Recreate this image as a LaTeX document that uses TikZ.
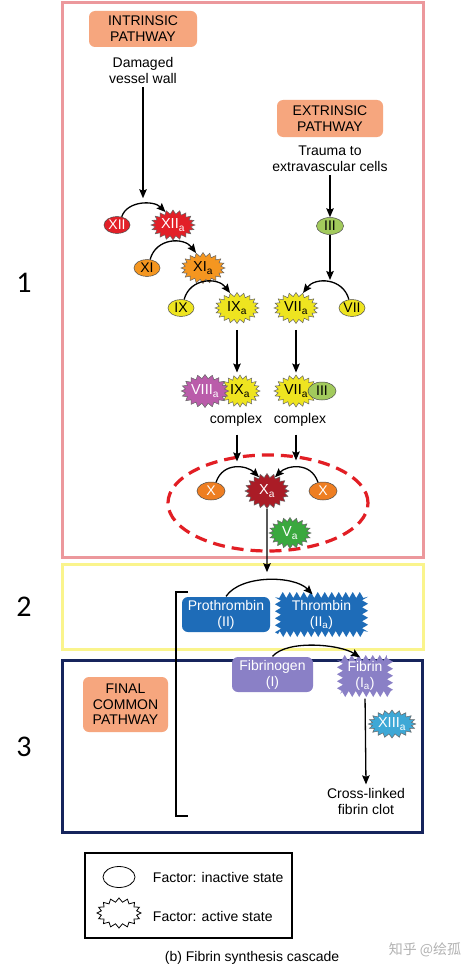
\documentclass[tikz,border=0pt]{standalone}
\usepackage{fontspec}
\setmainfont{Liberation Sans}
\newfontfamily\numfont{Carlito}
\newfontfamily\cjkfont{Noto Sans CJK SC}
\usepackage{xcolor}
\usetikzlibrary{arrows.meta,shapes.geometric,shapes.symbols,decorations.pathmorphing}

\definecolor{pinkframe}{RGB}{236,152,156}
\definecolor{yellowframe}{RGB}{250,244,140}
\definecolor{navyframe}{RGB}{22,36,92}
\definecolor{salmon}{RGB}{246,166,126}
\definecolor{red12}{RGB}{226,32,40}
\definecolor{orange11}{RGB}{244,150,32}
\definecolor{yellow9}{RGB}{238,228,32}
\definecolor{green3}{RGB}{162,202,92}
\definecolor{purple8}{RGB}{186,92,170}
\definecolor{orange10}{RGB}{238,126,34}
\definecolor{darkred10}{RGB}{170,28,38}
\definecolor{green5}{RGB}{58,168,62}
\definecolor{blue2}{RGB}{30,108,184}
\definecolor{lilac1}{RGB}{138,128,198}
\definecolor{blue13}{RGB}{62,168,214}
\definecolor{dashred}{RGB}{226,30,36}

\begin{document}
\begin{tikzpicture}[x=1pt,y=1pt,->,>={Stealth[length=9pt,width=7.5pt,inset=1.5pt]},line width=1.3pt,
        node distance=56pt,font=\fontsize{14}{16}\selectfont]
        \tikzstyle{frame}=[-,line width=3pt]
        \tikzstyle{inactive}=[ellipse,draw=black!70,line width=0.5pt,minimum width=26pt,
            minimum height=17pt,inner sep=0pt,font=\fontsize{14}{14}\selectfont]
        \tikzstyle{active}=[starburst,starburst points=20,starburst point height=4pt,
            random starburst=0,draw=black!60,line width=0.5pt,minimum width=44pt,
            minimum height=30pt,inner sep=0pt,font=\fontsize{14.5}{14.5}\selectfont]
        \tikzstyle{pathway}=[rounded corners=6pt,fill=salmon,align=center,inner sep=0pt]
        \tikzstyle{plain}=[align=center]
        \tikzstyle{protein}=[rounded corners=6pt,align=center,text=white,inner sep=0pt]
        \tikzstyle{jagged}=[align=center,text=white,inner sep=0pt,decorate,
            decoration={zigzag,segment length=7pt,amplitude=3pt}]

        \path[use as bounding box,fill=white] (0,0) rectangle (474,-971);

        % the three stages
        \draw[frame,pinkframe] (62,-3) rectangle (423,-557);
        \draw[frame,yellowframe] (62,-564) rectangle (423,-649);
        \draw[frame,navyframe] (62,-660) rectangle (422,-832);
        \node[font=\numfont\fontsize{30}{30}\selectfont] (n1) at (24,-283) {1};
        \node[font=\numfont\fontsize{30}{30}\selectfont] (n2) at (24,-607) {2};
        \node[font=\numfont\fontsize{30}{30}\selectfont] (n3) at (24,-747) {3};

        \node[pathway,minimum width=108pt,minimum height=36pt] (intr) at (143,-29) {INTRINSIC\\PATHWAY};
        \node[plain] (damaged) at (143,-70) {Damaged\\vessel wall};
        \node[pathway,minimum width=106pt,minimum height=37pt] (extr) at (330,-118.5) {EXTRINSIC\\PATHWAY};
        \node[plain] (trauma) at (330,-158.5) {Trauma to\\extravascular cells};

        % intrinsic and extrinsic factors
        \node[inactive,fill=red12,text=white] (XII) at (117,-225) {XII};
        \node[active,fill=red12,text=white] (XIIa) [right of=XII] {XII\textsubscript{a}};
        \node[inactive,fill=orange11] (XI) at (147,-268) {XI};
        \node[active,fill=orange11,minimum height=31pt] (XIa) [right of=XI] {XI\textsubscript{a}};
        \node[inactive,fill=yellow9] (IX) at (181,-308) {IX};
        \node[active,fill=yellow9,minimum height=31pt] (IXa) [right of=IX] {IX\textsubscript{a}};
        \node[active,fill=yellow9,minimum height=31pt] (VIIa) at (296,-308) {VII\textsubscript{a}};
        \node[inactive,fill=yellow9] (VII) [right of=VIIa] {VII};
        \node[inactive,fill=green3,minimum width=27pt] (III) at (330,-226) {III};

        % complexes
        \node[active,fill=yellow9,minimum width=40pt,minimum height=32pt] (IXc) at (240,-391) {IX\textsubscript{a}};
        \node[active,fill=purple8,text=white,minimum width=42pt,minimum height=33pt] (VIIIa) at (205,-391) {VIII\textsubscript{a}};
        \node[active,fill=yellow9,minimum height=32pt] (VIIc) at (296,-391) {VII\textsubscript{a}};
        \node[inactive,fill=green3,minimum width=28pt,minimum height=18pt] (IIIc) at (322,-391) {III};
        \node[plain] (cxA) at (236,-420) {complex};
        \node[plain] (cxB) at (300,-420) {complex};

        \draw[-,dashred,line width=3.2pt,dash pattern=on 12pt off 7pt] (268,-503) ellipse [x radius=100pt,y radius=48pt];
        \node[active,fill=darkred10,text=white,minimum width=44pt,minimum height=35pt] (Xa) at (267,-491) {X\textsubscript{a}};
        \node[inactive,fill=orange10,text=white,minimum width=28pt,minimum height=18pt] (X) [left of=Xa] {X};
        \node[inactive,fill=orange10,text=white,minimum width=28pt,minimum height=18pt] (Xr) [right of=Xa] {X};

        % common pathway
        \node[protein,fill=blue2,minimum width=88pt,minimum height=35pt] (pro) at (226,-614.5) {Prothrombin\\(II)};
        \node[jagged,fill=blue2,minimum width=87pt,minimum height=39pt] (thr) at (321.5,-614.5) {Thrombin\\(II\textsubscript{a})};
        \node[pathway,minimum width=85pt,minimum height=55pt,font=\fontsize{14}{15.5}\selectfont] (final) at (125.5,-704.5) {FINAL\\COMMON\\PATHWAY};
        \node[protein,fill=lilac1,minimum width=81pt,minimum height=35pt] (fbg) at (272.5,-674.5) {Fibrinogen\\(I)};
        \node[jagged,fill=lilac1,minimum width=50pt,minimum height=36pt] (fbn) at (365,-676) {Fibrin\\(I\textsubscript{a})};
        \node[active,fill=blue13,text=white,minimum width=45pt,minimum height=28pt] (XIIIa) at (392,-724) {XIII\textsubscript{a}};
        \node[plain] (clot) at (366,-801.5) {Cross-linked\\fibrin clot};
        \draw[-] (188,-592) -- (176,-592) -- (176,-816) -- (188,-816);

        % activation arcs
        \draw (XII.60) .. controls +(5,16) and +(-12,12) .. (XIIa.120) coordinate[pos=0.45] (c12);
        \draw (XI.70) .. controls +(6,22) and +(-12,16) .. (XIa.115);
        \draw (IX.70) .. controls +(6,22) and +(-12,16) .. (IXa.115);
        \draw (VII.110) .. controls +(-6,22) and +(12,16) .. (VIIa.65) coordinate[pos=0.5] (c7);
        \draw (X.60) .. controls +(7,21) and +(-12,12) .. (Xa.120) coordinate[pos=0.5] (cX1);
        \draw (Xr.120) .. controls +(-7,21) and +(12,12) .. (Xa.60) coordinate[pos=0.5] (cX2);
        \draw (pro.north) .. controls +(15,22) and +(-18,19) .. ([xshift=-9pt]thr.north) coordinate[pos=0.45] (c2);
        \draw (fbg.north) .. controls +(15,17) and +(-20,13) .. ([xshift=-5pt]fbn.north);

        \draw[shorten >=6pt] (damaged) -- (damaged |- c12);
        \draw (trauma) -- (III);
        \draw[shorten >=2pt] (III) -- (III |- c7);
        \draw[shorten <=6pt,shorten >=2pt] (IXa.south) -- (IXa.south |- IXc.north);
        \draw[shorten <=6pt,shorten >=2pt] (VIIa.south) -- (VIIa.south |- VIIc.north);
        \draw[shorten <=4pt,shorten >=6pt] (IXa |- cxA.south) -- (IXa |- cX1);
        \draw[shorten <=4pt,shorten >=7pt] (VIIa |- cxB.south) -- (VIIa |- cX2);
        \draw[shorten >=8pt] (Xa.south) -- (Xa |- c2);
        \node[active,fill=green5,text=white,minimum width=42pt,minimum height=31pt] (Va) at (290,-533) {V\textsubscript{a}};
        \draw[shorten <=4pt] (fbn.south) -- (clot.north);

        % legend
        \draw[-] (85,-853) rectangle (292,-938);
        \node[ellipse,draw,line width=0.8pt,minimum width=32pt,minimum height=21pt,inner sep=0pt] (lgIn) at (119,-877) {};
        \node[active,fill=white,draw=black,line width=0.8pt,minimum width=44pt,minimum height=30pt,starburst points=16] (lgAct) at (119,-913) {};
        \node[anchor=west] (lgInTxt) at (149,-877) {Factor: inactive state};
        \node[anchor=west] (lgActTxt) at (149,-916) {Factor: active state};
        \node (caption) at (252,-958) {(b) Fibrin synthesis cascade};
        \node[text=black!30,font=\cjkfont\fontsize{14}{14}\selectfont] (mark) at (425,-950) {知乎 @绘孤};
    \end{tikzpicture}
\end{document}
